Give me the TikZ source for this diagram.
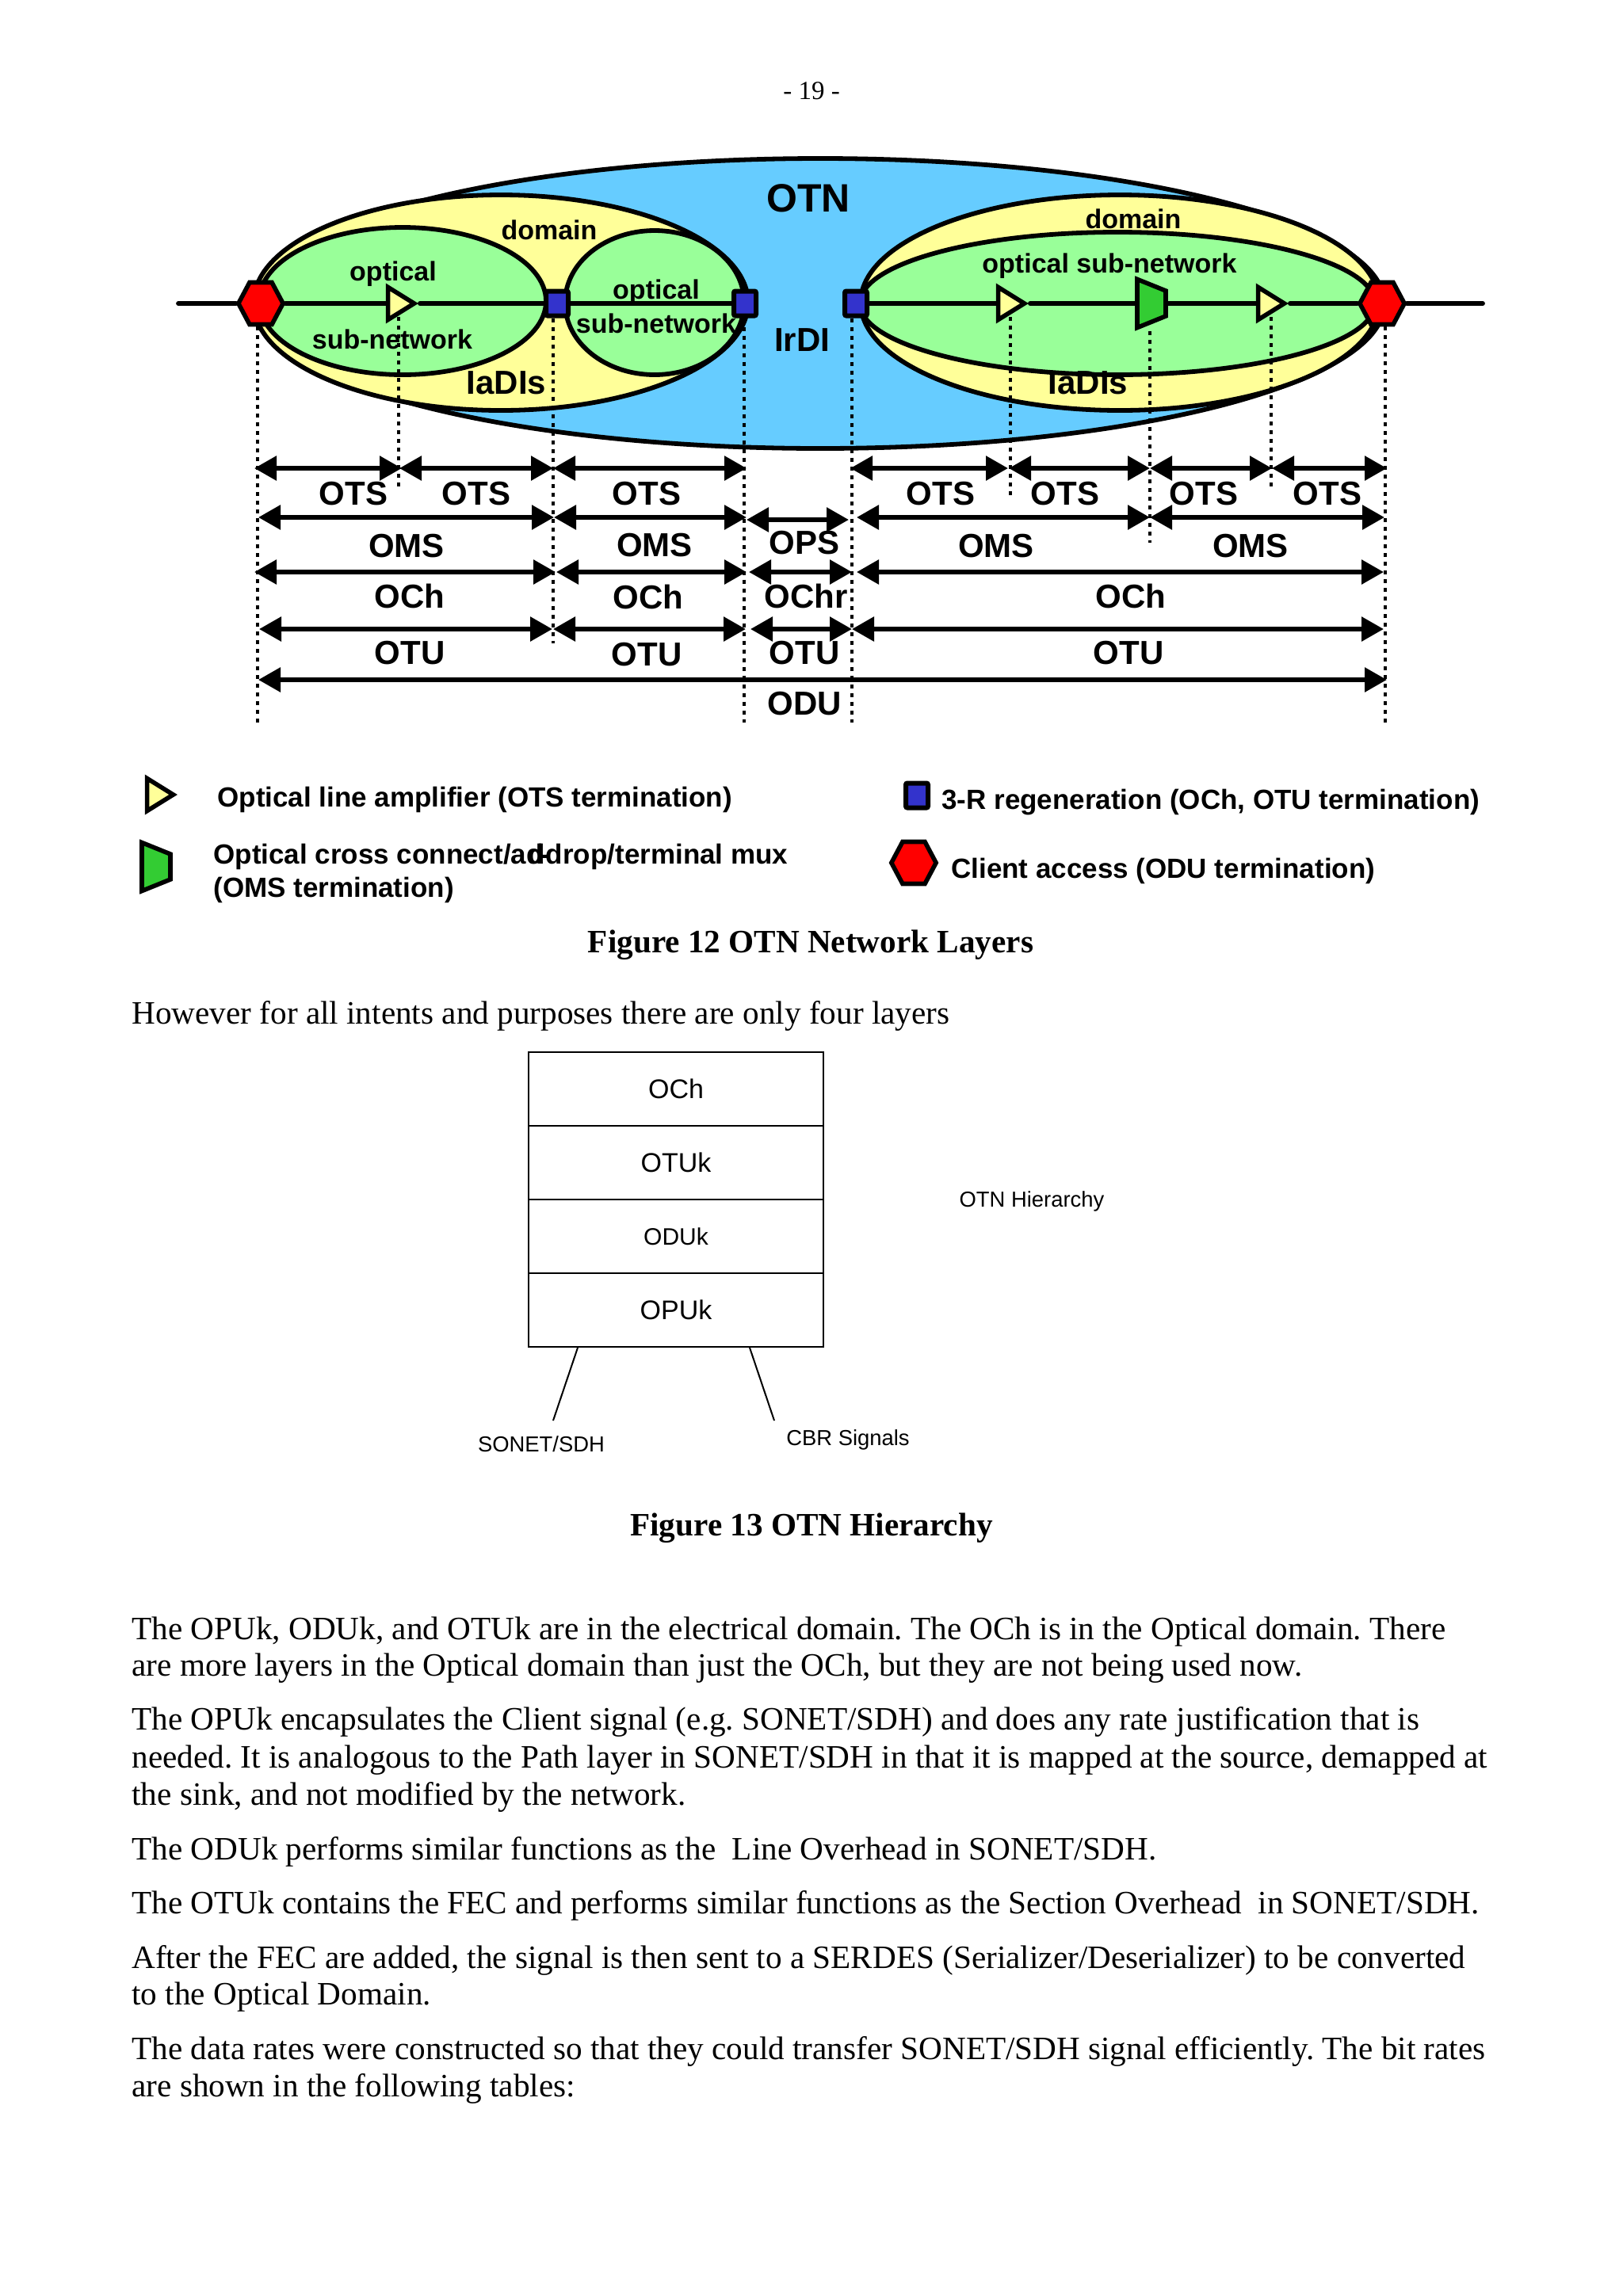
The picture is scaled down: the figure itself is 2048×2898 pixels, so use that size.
\documentclass[tikz,border=0pt]{standalone}
\usepackage{fontspec}
\setmainfont{Liberation Serif}
\setsansfont{Liberation Sans}
\usetikzlibrary{positioning,arrows.meta,shapes.geometric}
\definecolor{otnblue}{HTML}{66CCFF}
\definecolor{domyellow}{HTML}{FFFF99}
\definecolor{subgreen}{HTML}{99FF99}
\definecolor{oxcgreen}{HTML}{33CC33}
\definecolor{regenblue}{HTML}{3333CC}
\definecolor{accessred}{HTML}{FF0000}
\newcommand{\oxcbody}{\hspace*{16pt}\rule{0pt}{18pt}}
\tikzset{cloud line/.style={draw=black, line width=2.9pt}}
\tikzset{fibre/.style={line width=2.9pt, line cap=round}}
\tikzset{dropline/.style={line width=1.9pt, dash pattern=on 2.5pt off 3pt}}
\tikzset{span/.style={{Triangle[length=14pt, width=15pt]}-{Triangle[length=14pt, width=15pt]}, line width=3pt}}
\tikzset{accessnode/.style={regular polygon, regular polygon sides=6, xscale=.92, transform shape, minimum size=30.6pt, inner sep=0pt, draw, line width=2.8pt, fill=accessred}}
\tikzset{regennode/.style={rectangle, rounded corners=1pt, minimum width=14pt, minimum height=15.5pt, inner sep=0pt, draw, line width=3pt, fill=regenblue}}
\tikzset{ampnode/.style={isosceles triangle, isosceles triangle stretches, minimum width=20.5pt, minimum height=16.5pt, inner sep=0pt, draw, line width=2.8pt, fill=domyellow}}
\tikzset{oxcnode/.style={trapezium, trapezium left angle=68, trapezium right angle=68, rotate=-90, inner sep=0pt, draw, line width=2.8pt, fill=oxcgreen}}
\tikzset{layertag/.style={font=\sffamily\bfseries\fontsize{21}{24}\selectfont, inner sep=0pt}}
\tikzset{cloudtag/.style={font=\sffamily\bfseries\fontsize{17}{20}\selectfont, inner sep=0pt}}
\tikzset{legendtag/.style={font=\sffamily\bfseries\fontsize{17.5}{20}\selectfont, inner sep=0pt, anchor=west}}
\tikzset{stackbox/.style={rectangle, draw, line width=1pt, minimum width=186pt, minimum height=46.5pt, inner sep=0pt, font=\sffamily\fontsize{17}{20}\selectfont}}
\tikzset{stacktag/.style={font=\sffamily\fontsize{13.7}{16}\selectfont, inner sep=0pt}}
\tikzset{bodyline/.style={font=\rmfamily\frenchspacing\fontsize{20.6}{24}\selectfont, inner sep=0pt, anchor=base west}}
\tikzset{captionline/.style={font=\rmfamily\bfseries\fontsize{20.6}{24}\selectfont, inner sep=0pt}}
\begin{document}
\begin{tikzpicture}[x=0.5pt, y=-0.5pt]
  \useasboundingbox (0,0) rectangle (2048,2898);

  \node[font=\rmfamily\fontsize{16.5}{20}\selectfont, inner sep=0pt] (pagenum) at (1024,115) {- 19 -};

  % clouds
  \draw[cloud line, fill=otnblue] (1035,383) ellipse [x radius=712, y radius=183];
  \draw[cloud line, fill=domyellow] (632,382) ellipse [x radius=312, y radius=136];
  \draw[cloud line, fill=domyellow] (1413,382) ellipse [x radius=327, y radius=136];
  \draw[cloud line, fill=subgreen] (508,380) ellipse [x radius=181, y radius=93];
  \draw[cloud line, fill=subgreen] (826,382) ellipse [x radius=113, y radius=91];
  \draw[cloud line, fill=subgreen] (1410,383) ellipse [x radius=325, y radius=90];

  % equipment on the fibre
  \coordinate (fibreleft) at (225,383);
  \coordinate (fibreright) at (1871,383);
  \node[accessnode] (access1) at (329,383) {};
  \node[ampnode] (amp1) at (501,383) {};
  \node[regennode] (regen1) at (703,383) {};
  \node[regennode] (regen2) at (940,383) {};
  \node[regennode] (regen3) at (1080,383) {};
  \node[ampnode] (amp2) at (1271,383) {};
  \node[oxcnode] (oxc1) at (1453,383) {\oxcbody};
  \node[ampnode] (amp3) at (1599,383) {};
  \node[accessnode] (access2) at (1744,383) {};
  \draw[fibre] (fibreleft) -- (access1);
  \draw[fibre] (access1) -- (amp1);
  \draw[fibre] (amp1) -- (regen1);
  \draw[fibre] (regen1) -- (regen2);
  \draw[fibre] (regen3) -- (amp2);
  \draw[fibre] (amp2) -- (oxc1);
  \draw[fibre] (oxc1) -- (amp3);
  \draw[fibre] (amp3) -- (access2);
  \draw[fibre] (access2) -- (fibreright);

  % drop lines
  \coordinate (drop1) at (325,912);
  \coordinate (drop2) at (503,617);
  \coordinate (drop3) at (698,812);
  \coordinate (drop4) at (939,912);
  \coordinate (drop5) at (1075,912);
  \coordinate (drop6) at (1275,625);
  \coordinate (drop7) at (1451,685);
  \coordinate (drop8) at (1604,617);
  \coordinate (drop9) at (1748,912);
  \draw[dropline] (drop1 |- access1.south) -- (drop1);
  \draw[dropline] (drop2 |- amp1.south) -- (drop2);
  \draw[dropline] (drop3 |- regen1.south) -- (drop3);
  \draw[dropline] (drop4 |- regen2.south) -- (drop4);
  \draw[dropline] (drop5 |- regen3.south) -- (drop5);
  \draw[dropline] (drop6 |- amp2.south) -- (drop6);
  \draw[dropline] (drop7 |- oxc1.bottom right corner) -- (drop7);
  \draw[dropline] (drop8 |- amp3.south) -- (drop8);
  \draw[dropline] (drop9 |- access2.south) -- (drop9);

  \node[font=\sffamily\bfseries\fontsize{25}{28}\selectfont, inner sep=0pt] (otntag) at (1020,250) {OTN};
  \node[layertag] (irditag) at (1012,429) {IrDI};
  \node[layertag] (iadis1) at (639,483) {IaDIs};
  \node[layertag] (iadis2) at (1373,483) {IaDIs};
  \node[cloudtag] (domain1) at (693,290) {domain};
  \node[cloudtag] (domain2) at (1430,276) {domain};
  \node[cloudtag] (optical1) at (496,346) {optical};
  \node[cloudtag] (subnet1) at (495,428) {sub-network};
  \node[cloudtag] (optical2) at (828,369) {optical};
  \node[cloudtag] (subnet2) at (828,408) {sub-network};
  \node[cloudtag] (subnet3) at (1400,336) {optical sub-network};

  % spans, row by row
  \coordinate (ots1a) at (321,591); \coordinate (ots1b) at (507,591);
  \coordinate (ots2a) at (504,591); \coordinate (ots2b) at (698,591);
  \coordinate (ots3a) at (698,591); \coordinate (ots3b) at (942,591);
  \coordinate (ots4a) at (1073,591); \coordinate (ots4b) at (1272,591);
  \coordinate (ots5a) at (1273,591); \coordinate (ots5b) at (1451,591);
  \coordinate (ots6a) at (1451,591); \coordinate (ots6b) at (1605,591);
  \coordinate (ots7a) at (1605,591); \coordinate (ots7b) at (1750,591);
  \draw[span] (ots1a) -- (ots1b);
  \draw[span] (ots2a) -- (ots2b);
  \draw[span] (ots3a) -- (ots3b);
  \draw[span] (ots4a) -- (ots4b);
  \draw[span] (ots5a) -- (ots5b);
  \draw[span] (ots6a) -- (ots6b);
  \draw[span] (ots7a) -- (ots7b);
  \node[layertag] (otstag1) at (446,623) {OTS};
  \node[layertag] (otstag2) at (601,623) {OTS};
  \node[layertag] (otstag3) at (816,623) {OTS};
  \node[layertag] (otstag4) at (1187,623) {OTS};
  \node[layertag] (otstag5) at (1344,623) {OTS};
  \node[layertag] (otstag6) at (1519,623) {OTS};
  \node[layertag] (otstag7) at (1675,623) {OTS};

  \coordinate (oms1a) at (326,653); \coordinate (oms1b) at (699,653);
  \coordinate (oms2a) at (699,653); \coordinate (oms2b) at (942,653);
  \coordinate (opsa) at (942,656); \coordinate (opsb) at (1071,656);
  \coordinate (oms3a) at (1081,653); \coordinate (oms3b) at (1451,653);
  \coordinate (oms4a) at (1451,653); \coordinate (oms4b) at (1747,653);
  \draw[span] (oms1a) -- (oms1b);
  \draw[span] (oms2a) -- (oms2b);
  \draw[span] (opsa) -- (opsb);
  \draw[span] (oms3a) -- (oms3b);
  \draw[span] (oms4a) -- (oms4b);
  \node[layertag] (omstag1) at (513,689) {OMS};
  \node[layertag] (omstag2) at (826,688) {OMS};
  \node[layertag] (opstag) at (1015,685) {OPS};
  \node[layertag] (omstag3) at (1257,689) {OMS};
  \node[layertag] (omstag4) at (1578,689) {OMS};

  \coordinate (och1a) at (321,722); \coordinate (och1b) at (701,722);
  \coordinate (och2a) at (702,722); \coordinate (och2b) at (942,722);
  \coordinate (ochra) at (945,722); \coordinate (ochrb) at (1075,722);
  \coordinate (och3a) at (1081,722); \coordinate (och3b) at (1746,722);
  \draw[span] (och1a) -- (och1b);
  \draw[span] (och2a) -- (och2b);
  \draw[span] (ochra) -- (ochrb);
  \draw[span] (och3a) -- (och3b);
  \node[layertag] (ochtag1) at (517,752) {OCh};
  \node[layertag] (ochtag2) at (818,753) {OCh};
  \node[layertag] (ochrtag) at (1017,752) {OChr};
  \node[layertag] (ochtag3) at (1427,752) {OCh};

  \coordinate (otu1a) at (327,794); \coordinate (otu1b) at (697,794);
  \coordinate (otu2a) at (698,794); \coordinate (otu2b) at (941,794);
  \coordinate (otu3a) at (947,794); \coordinate (otu3b) at (1075,794);
  \coordinate (otu4a) at (1075,794); \coordinate (otu4b) at (1746,794);
  \draw[span] (otu1a) -- (otu1b);
  \draw[span] (otu2a) -- (otu2b);
  \draw[span] (otu3a) -- (otu3b);
  \draw[span] (otu4a) -- (otu4b);
  \node[layertag] (otutag1) at (517,824) {OTU};
  \node[layertag] (otutag2) at (816,826) {OTU};
  \node[layertag] (otutag3) at (1015,824) {OTU};
  \node[layertag] (otutag4) at (1424,824) {OTU};

  \coordinate (odua) at (326,858); \coordinate (odub) at (1750,858);
  \draw[span] (odua) -- (odub);
  \node[layertag] (odutag) at (1015,888) {ODU};

  % legend
  \node[ampnode] (legamp) at (197,1003) {};
  \node[legendtag] (legamptext) at (274,1009) {Optical line amplifier (OTS termination)};
  \node[oxcnode] (legoxc) at (197,1094) {\oxcbody};
  \node[legendtag] (legoxctext1) at (269,1081) {Optical cross connect/ad\kern-.55em d\kern-.15em-\kern-.15em drop/terminal mux};
  \node[legendtag] (legoxctext2) at (269,1123) {(OMS termination)};
  \node[regennode] (legregen) at (1157,1004) {};
  \node[legendtag] (legregentext) at (1188,1013) {3-R regeneration (OCh, OTU termination)};
  \node[accessnode] (legaccess) at (1153,1089) {};
  \node[legendtag] (legaccesstext) at (1200,1099) {Client access (ODU termination)};

  \node[captionline] (fig12) at (1023,1193) {Figure 12 OTN Network Layers};
  \node[bodyline] (however) at (166,1292) {However for all intents and purposes there are only four layers};

  % layer stack
  \node[stackbox] (ochbox) at (853,1374.5) {OCh};
  \node[stackbox] (otukbox) at (853,1467.5) {OTUk};
  \node[stackbox, font=\sffamily\fontsize{15}{18}\selectfont] (odukbox) at (853,1560.5) {ODUk};
  \node[stackbox] (opukbox) at (853,1653.5) {OPUk};
  \coordinate (sonetend) at (698,1793);
  \coordinate (cbrend) at (977,1793);
  \draw[line width=1pt] (opukbox.south -| 729,0) -- (sonetend);
  \draw[line width=1pt] (opukbox.south -| 946,0) -- (cbrend);
  \node[stacktag] (sonettag) at (683,1823) {SONET/SDH};
  \node[stacktag] (cbrtag) at (1070,1817) {CBR Signals};
  \node[stacktag] (hierarchytag) at (1302,1516) {OTN Hierarchy};

  \node[captionline] (fig13) at (1024,1929) {Figure 13 OTN Hierarchy};

  \node[bodyline] (para1a) at (166,2069) {The OPUk, ODUk, and OTUk are in the electrical domain. The OCh is in the Optical domain. There};
  \node[bodyline] (para1b) at (166,2115) {are more layers in the Optical domain than just the OCh, but they are not being used now.};
  \node[bodyline] (para2a) at (166,2183) {The OPUk encapsulates the Client signal (e.g. SONET/SDH) and does any rate justification that is};
  \node[bodyline] (para2b) at (166,2231) {needed. It is analogous to the Path layer in SONET/SDH in that it is mapped at the source, demapped at};
  \node[bodyline] (para2c) at (166,2278) {the sink, and not modified by the network.};
  \node[bodyline] (para3) at (166,2347) {The ODUk performs similar functions as the\ \ Line Overhead in SONET/SDH.};
  \node[bodyline] (para4) at (166,2415) {The OTUk contains the FEC and performs similar functions as the Section Overhead\ \ in SONET/SDH.};
  \node[bodyline] (para5a) at (166,2484) {After the FEC are added, the signal is then sent to a SERDES (Serializer/Deserializer) to be converted};
  \node[bodyline] (para5b) at (166,2530) {to the Optical Domain.};
  \node[bodyline] (para6a) at (166,2599) {The data rates were constructed so that they could transfer SONET/SDH signal efficiently. The bit rates};
  \node[bodyline] (para6b) at (166,2646) {are shown in the following tables:};
\end{tikzpicture}
\end{document}
